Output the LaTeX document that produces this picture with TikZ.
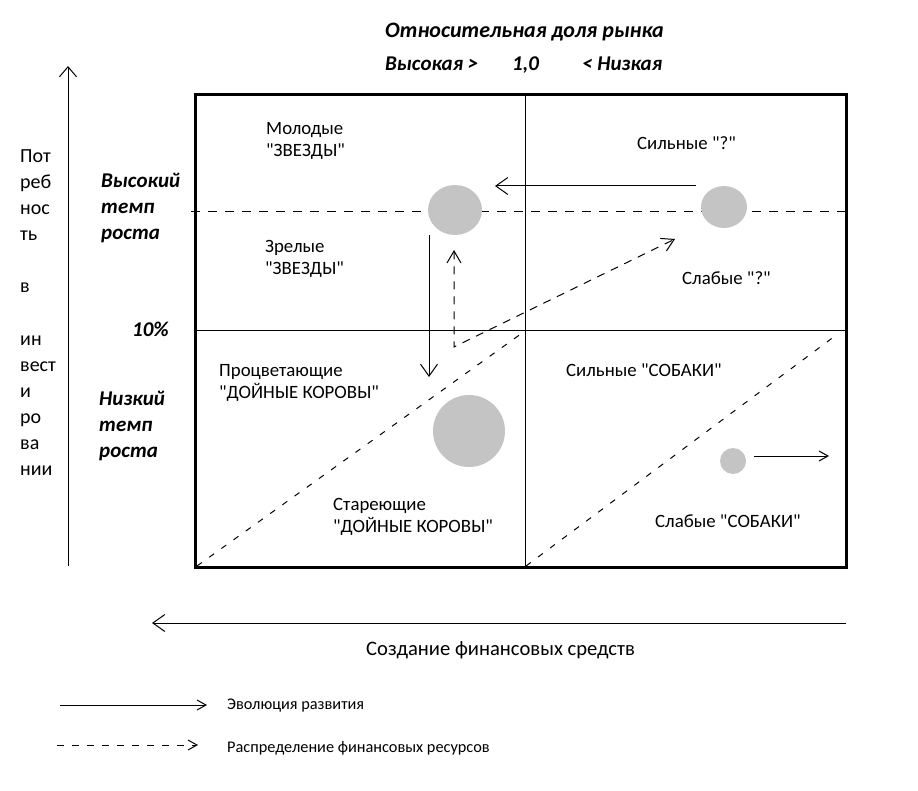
\documentclass[tikz,border=0pt]{standalone}
\usepackage{fontspec}
\setmainfont{Carlito}[Ligatures=TeXOff]
\usetikzlibrary{arrows.meta}
\newcommand{\qd}{\char34 }
\tikzset{
  lbl/.style={inner sep=0pt, anchor=base west, font=\fontsize{18.8}{22}\selectfont},
  vt/.style={inner sep=0pt, anchor=base west, font=\fontsize{20}{24}\selectfont},
  bi/.style={inner sep=0pt, anchor=base west, font=\bfseries\itshape\fontsize{21}{24}\selectfont},
  thin/.style={line width=1pt},
  bigbarb/.style={-{Straight Barb[length=12pt,width=17pt,line width=1pt]}},
  smallbarb/.style={-{Straight Barb[length=9pt,width=10pt,line width=1pt]}},
  dsh/.style={dash pattern=on 9pt off 8pt},
  dshd/.style={dash pattern=on 6pt off 9pt},
  bubble/.style={fill=black!23, draw=none},
}
\begin{document}
\begin{tikzpicture}[x=1pt,y=-1pt]
\useasboundingbox (0,0) rectangle (918,791);
% frame
\coordinate (tl) at (195,95);
\coordinate (br) at (846,567);
\coordinate (mc) at (525,331);
\draw[thin] (525,95) -- (525,567);
\draw[thin] (195,331) -- (846,331);
\draw[thin,dsh] (191,212) -- (846,212);
\draw[thin,dshd] (197,566) -- (mc);
\draw[thin,dshd] (526,566) -- (835,336);
\draw[line width=3pt] (tl) rectangle (br);
% bubbles
\fill[bubble] (455,210) ellipse [x radius=27, y radius=25];
\fill[bubble] (724,207) ellipse [x radius=23, y radius=21];
\fill[bubble] (469,431) circle [radius=36];
\fill[bubble] (733,461) circle [radius=13];
% evolution arrows
\coordinate (e1s) at (696,186); \coordinate (e1e) at (495,186);
\draw[thin,bigbarb] (e1s) -- (e1e);
\coordinate (e2s) at (429,235); \coordinate (e2e) at (429,377);
\draw[thin,bigbarb] (e2s) -- (e2e);
\coordinate (e3s) at (754,456); \coordinate (e3e) at (829,456);
\draw[thin,smallbarb] (e3s) -- (e3e);
% finance flows
\coordinate (fc) at (454,347);
\coordinate (fa) at (454,250);
\coordinate (fb) at (675,239);
\draw[thin,dash pattern=on 8pt off 7pt,{Straight Barb[length=12pt,width=14pt,line width=1pt]}-{Straight Barb[length=12pt,width=14pt,line width=1pt]}] (fa) -- (fc) -- (fb);
% axes
\coordinate (ya) at (68,566); \coordinate (yb) at (68,66);
\draw[thin,-{Straight Barb[length=10pt,width=17pt,line width=1pt]}] (ya) -- (yb);
\coordinate (xa) at (846,623); \coordinate (xb) at (152,623);
\draw[thin,bigbarb] (xa) -- (xb);
% top texts
\node[bi,font=\bfseries\itshape\fontsize{22}{24}\selectfont] (t1) at (385,38) {Относительная доля рынка};
\node[bi] (t2) at (385,71) {Высокая >};
\node[bi] (t3) at (512,71) {1,0};
\node[bi] (t4) at (582,71) {< Низкая};
% quadrant labels
\node[lbl] (q1a) at (266,135) {Молодые};
\node[lbl] (q1b) at (266,157) {\qd ЗВЕЗДЫ\qd};
\node[lbl] (q2) at (637,150) {Сильные \qd ?\qd};
\node[lbl] (q3a) at (265,253) {Зрелые};
\node[lbl] (q3b) at (265,275) {\qd ЗВЕЗДЫ\qd};
\node[lbl] (q4) at (682,285) {Слабые \qd ?\qd};
\node[lbl] (q5a) at (219,377) {Процветающие};
\node[lbl] (q5b) at (219,399) {\qd ДОЙНЫЕ КОРОВЫ\qd};
\node[lbl] (q6) at (566,377) {Сильные \qd СОБАКИ\qd};
\node[lbl] (q7a) at (333,510) {Стареющие};
\node[lbl] (q7b) at (333,532) {\qd ДОЙНЫЕ КОРОВЫ\qd};
\node[lbl] (q8) at (655,527) {Слабые \qd СОБАКИ\qd};
% growth labels
\foreach \t/\xx/\yy [count=\i] in {Высокий/101/188,темп/101/214,роста/101/240,10\%/132/337,Низкий/99/405,темп/99/431,роста/99/457}
  \node[bi] (g\i) at (\xx,\yy) {\t};
% vertical axis text
\foreach \t/\yy [count=\i] in {Пот/163,реб/189,нос/215,ть/241,в/293,ин/345,вест/371,и/397,ро/423,ва/449,нии/475}
  \node[vt] (v\i) at (20,\yy) {\t};
% bottom axis label
\node[inner sep=0pt,anchor=base west,font=\fontsize{20.6}{24}\selectfont] (xl) at (366,655) {Создание финансовых средств};
% legend
\coordinate (l1a) at (60,705); \coordinate (l1b) at (207,705);
\draw[thin,smallbarb] (l1a) -- (l1b);
\coordinate (l2a) at (57,745); \coordinate (l2b) at (198,745);
\draw[thin,dash pattern=on 7pt off 8pt,smallbarb] (l2a) -- (l2b);
\node[inner sep=0pt,anchor=base west,font=\fontsize{16.3}{18}\selectfont] (lt1) at (227,709) {Эволюция развития};
\node[inner sep=0pt,anchor=base west,font=\fontsize{16.3}{18}\selectfont] (lt2) at (227,752) {Распределение финансовых ресурсов};
\end{tikzpicture}
\end{document}
